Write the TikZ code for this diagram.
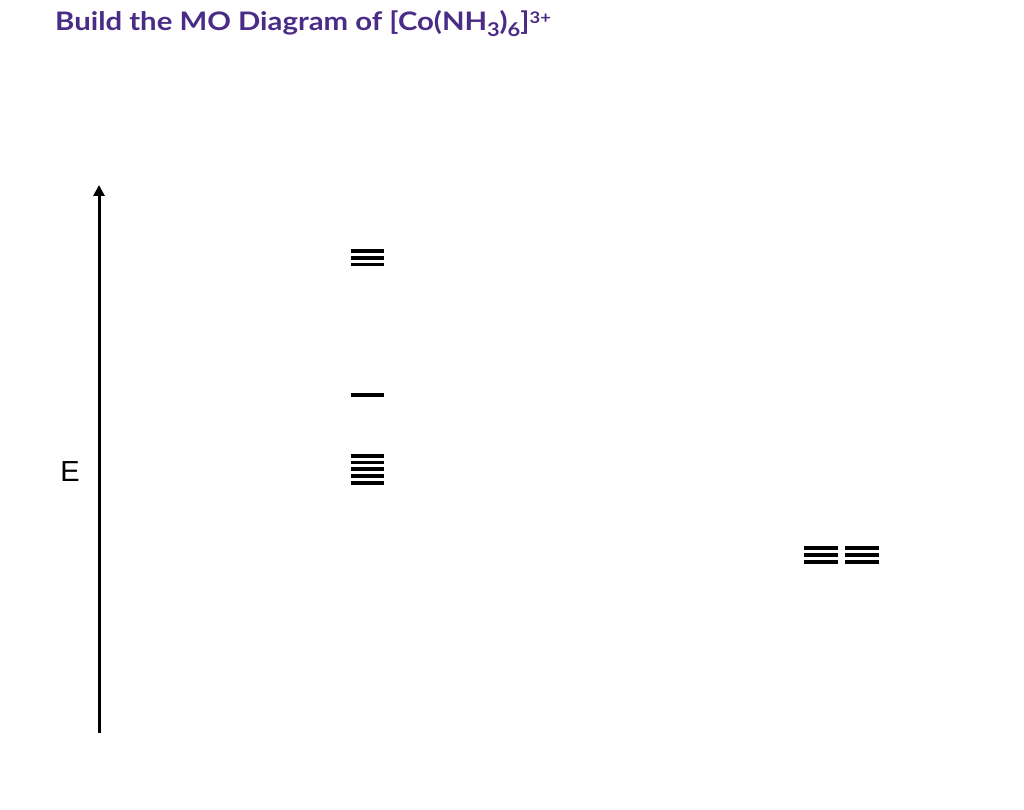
\documentclass[tikz,border=0pt]{standalone}
\usepackage{fontspec}
\usepackage{graphicx}
\setmainfont{Lato}
\newfontfamily\efont{Liberation Sans}
\usetikzlibrary{arrows.meta}
\definecolor{titlepurple}{HTML}{4A2C86}
\newcommand{\mysub}[1]{\raisebox{-6pt}{\fontsize{19}{20}\selectfont #1}}
\newcommand{\mysup}[1]{\raisebox{7pt}{\fontsize{16}{18}\selectfont #1}}
\tikzset{
  level/.style={line width=3.4pt, black},
  axis/.style={line width=3pt, black, -{Triangle[width=11pt,length=11pt]}},
}
\begin{document}
\begin{tikzpicture}[x=1pt,y=-1pt]
\useasboundingbox (0,0) rectangle (1024,810);
\node[anchor=base west, inner sep=0, text=titlepurple, font=\fontsize{25.5}{30}\selectfont\bfseries] (title) at (55,31) {\scalebox{1.15}[1]{Build the MO Diagram of [Co(NH\mysub{3})\mysub{6}]\mysup{3+}}};
% energy axis
\coordinate (ebottom) at (99,733);
\coordinate (etop) at (99,185);
\draw[axis] (ebottom) -- (etop);
\node[font=\efont\fontsize{29}{30}\selectfont, inner sep=0] (E) at (70,472) {E};
% MO levels
\foreach \y in {251,258,264.5} \draw[level] (351,\y) -- (384,\y);
\draw[level] (351,395) -- (384,395);
\foreach \y in {456,462.5,469,476,483} \draw[level] (351,\y) -- (384,\y);
% ligand levels
\foreach \y in {548,555,562} {
  \draw[level] (804,\y) -- (838,\y);
  \draw[level] (845,\y) -- (879,\y);
}
\end{tikzpicture}
\end{document}
